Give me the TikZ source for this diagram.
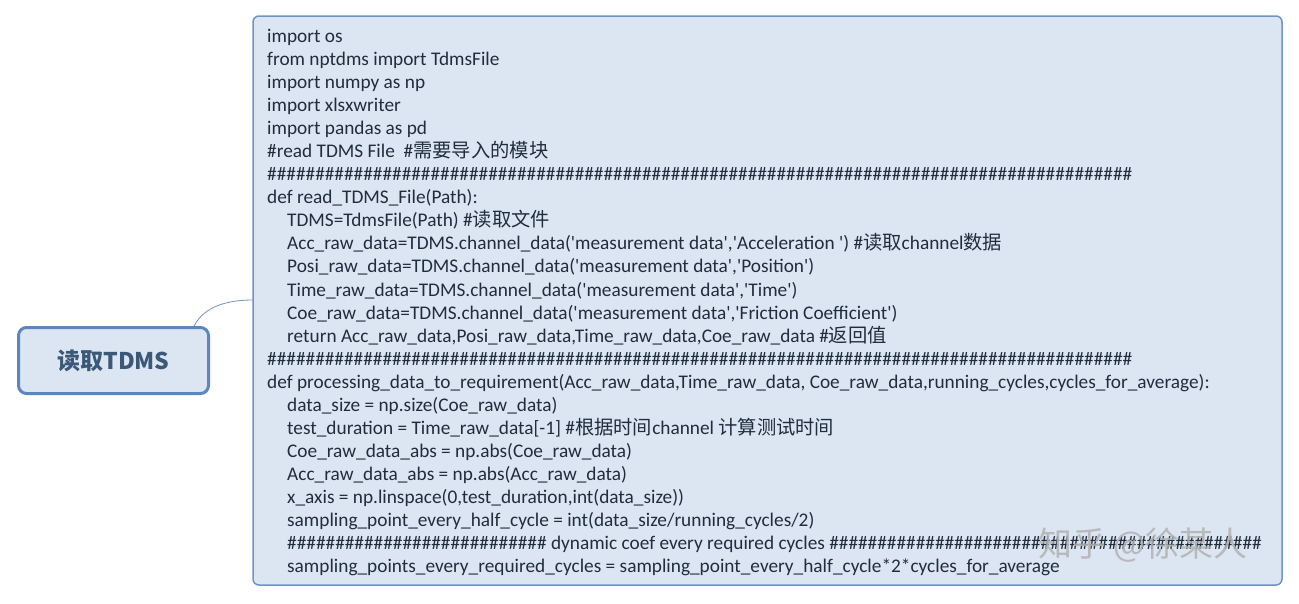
\documentclass[tikz,border=0pt]{standalone}
\usepackage{fontspec}
\setmainfont{Carlito}[Ligatures=TeXOff]
\newfontfamily\cjk{Noto Sans CJK SC}
\definecolor{boxfill}{HTML}{DCE6F2}
\definecolor{boxline}{HTML}{6F93C6}
\definecolor{txt}{HTML}{1F2D3D}
\definecolor{rootline}{HTML}{5B86BF}
\definecolor{roottxt}{HTML}{3B5878}
\newcommand{\hx}{\#\#\#\#\#\#\#\#\#\#}
\begin{document}
\begin{tikzpicture}[x=1pt,y=-1pt,
  codebox/.style={draw=boxline,line width=1.5pt,fill=boxfill,rounded corners=6pt},
  rootbox/.style={draw=rootline,line width=3pt,fill=boxfill,rounded corners=8pt,minimum width=190pt,minimum height=66pt,font=\cjk\bfseries\fontsize{23}{26}\selectfont,text=roottxt},
  link/.style={draw=boxline,line width=0.8pt}]
\useasboundingbox (0,0) rectangle (1299,603);
\draw[codebox] (253,16) rectangle (1282,585);
\coordinate (boxl) at (253,300);
\node[rootbox] (root) at (113.5,360.5) {读取TDMS};
\draw[link] (root.north east) ++(-16,0) .. controls (205,305) and (230,300) .. (boxl);
\node[anchor=north west,align=left,inner sep=0pt,text=txt,font=\fontsize{19.3}{23.05}\selectfont] (code) at (267,29) {%
import os\\
from nptdms import TdmsFile\\
import numpy as np\\
import xlsxwriter\\
import pandas as pd\\
\#read TDMS File\ \ \#{\cjk 需要导入的模块}\\
\hx\hx\hx\hx\hx\hx\hx\hx\hx\\
def read\_TDMS\_File(Path):\\
\hspace*{20pt}TDMS=TdmsFile(Path) \#{\cjk 读取文件}\\
\hspace*{20pt}Acc\_raw\_data=TDMS.channel\_data('measurement data','Acceleration ') \#{\cjk 读取}channel{\cjk 数据}\\
\hspace*{20pt}Posi\_raw\_data=TDMS.channel\_data('measurement data','Position')\\
\hspace*{20pt}Time\_raw\_data=TDMS.channel\_data('measurement data','Time')\\
\hspace*{20pt}Coe\_raw\_data=TDMS.channel\_data('measurement data','Friction Coefficient')\\
\hspace*{20pt}return Acc\_raw\_data,Posi\_raw\_data,Time\_raw\_data,Coe\_raw\_data \#{\cjk 返回值}\\
\hx\hx\hx\hx\hx\hx\hx\hx\hx\\
def processing\_data\_to\_requirement(Acc\_raw\_data,Time\_raw\_data, Coe\_raw\_data,running\_cycles,cycles\_for\_average):\\
\hspace*{20pt}data\_size = np.size(Coe\_raw\_data)\\
\hspace*{20pt}test\_duration = Time\_raw\_data[-1] \#{\cjk 根据时间}channel {\cjk 计算测试时间}\\
\hspace*{20pt}Coe\_raw\_data\_abs = np.abs(Coe\_raw\_data)\\
\hspace*{20pt}Acc\_raw\_data\_abs = np.abs(Acc\_raw\_data)\\
\hspace*{20pt}x\_axis = np.linspace(0,test\_duration,int(data\_size))\\
\hspace*{20pt}sampling\_point\_every\_half\_cycle = int(data\_size/running\_cycles/2)\\
\hspace*{20pt}\hx\hx\#\#\#\#\#\#\# dynamic coef every required cycles \hx\hx\hx\hx\#\#\#\#\#\\
\hspace*{20pt}sampling\_points\_every\_required\_cycles = sampling\_point\_every\_half\_cycle*2*cycles\_for\_average};
\node[anchor=center,font=\cjk\fontsize{34}{40}\selectfont,opacity=0.85] (wm) at (1143,545) {\textcolor{gray!60}{知乎 @徐某人}};
\end{tikzpicture}
\end{document}
